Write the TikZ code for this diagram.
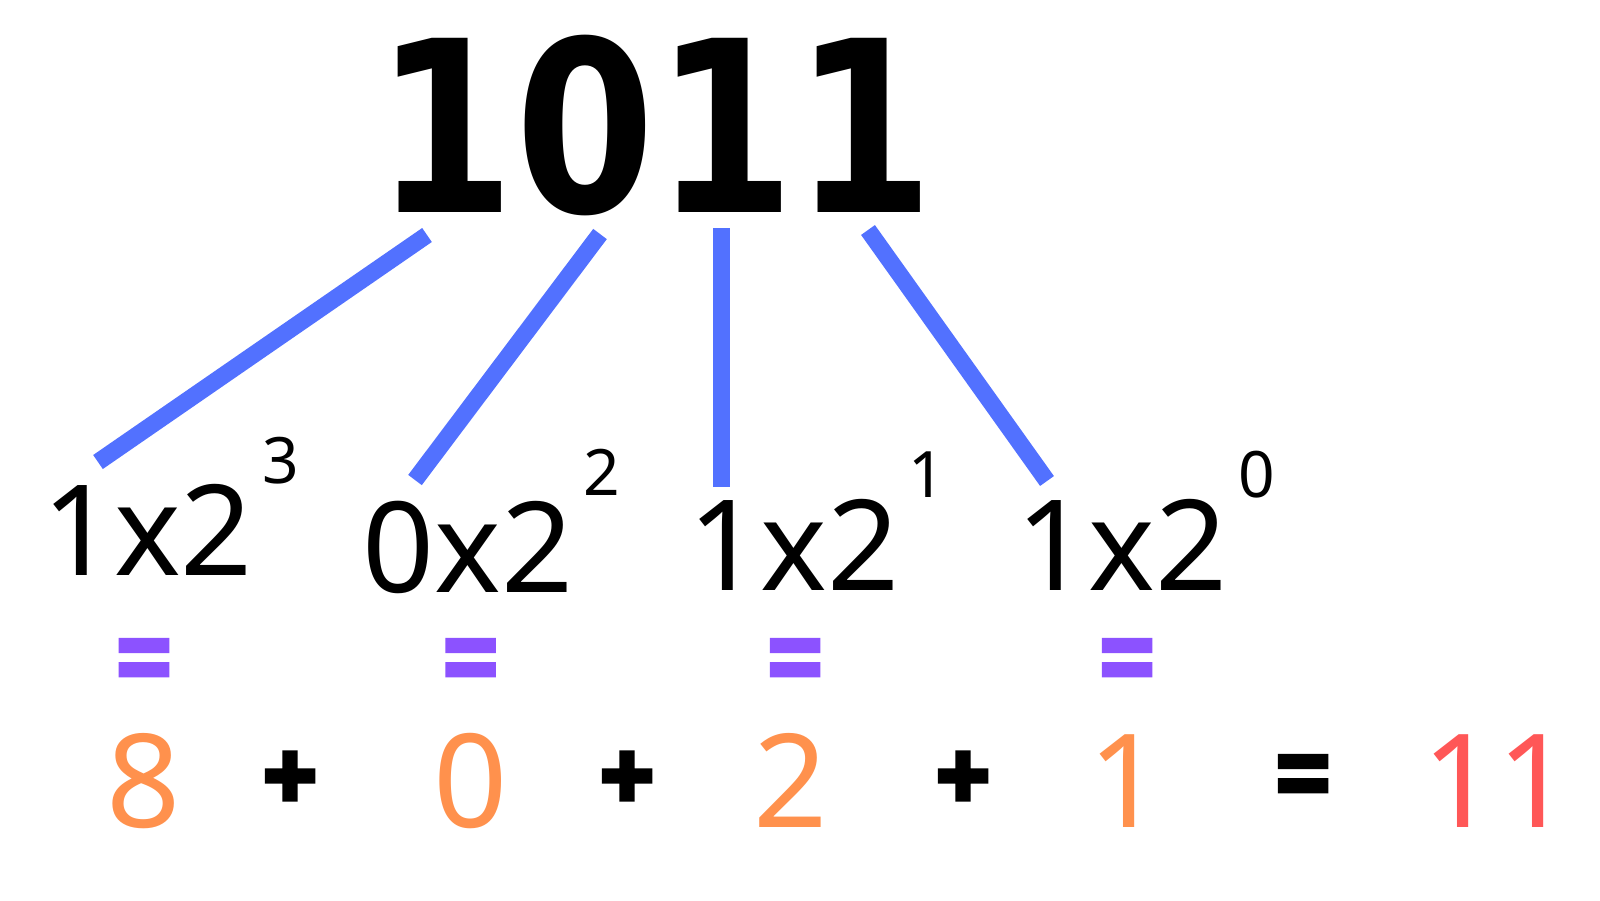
\documentclass[tikz,border=0pt]{standalone}
\usepackage{fontspec}
\setmainfont{Noto Sans}
\newfontfamily\titlefont{DejaVu Sans}
\newfontfamily\opfont{Liberation Sans}[BoldFeatures={FakeBold=6}]
\definecolor{linkblue}{HTML}{5271FF}
\definecolor{eqpurple}{HTML}{8C52FF}
\definecolor{valorange}{HTML}{FF914D}
\definecolor{sumred}{HTML}{FF5757}
\tikzset{
  link/.style={draw=linkblue, line width=17pt},
  titlenum/.style={inner sep=0pt, anchor=base, font=\titlefont\bfseries\fontsize{239}{239}\selectfont},
  term/.style={inner sep=0pt, anchor=base, font=\fontsize{126}{126}\selectfont},
  expo/.style={inner sep=0pt, anchor=base, font=\fontsize{64}{64}\selectfont},
  val/.style={inner sep=0pt, anchor=base, text=valorange, font=\fontsize{130}{130}\selectfont},
  total/.style={inner sep=0pt, anchor=base, text=sumred, font=\fontsize{130}{130}\selectfont},
  opsign/.style={inner sep=0pt, anchor=center, font=\opfont\bfseries\fontsize{90}{90}\selectfont},
  eqsign/.style={opsign, text=eqpurple},
}
\begin{document}
\begin{tikzpicture}[x=1pt,y=-1pt]
\useasboundingbox[fill=white] (0,0) rectangle (1600,900);
% title number
\node[titlenum] (num) at (655,212) {\scalebox{0.84}[1]{1011}};
% connector ends
\coordinate (a1) at (427,235);
\coordinate (a2) at (600,234);
\coordinate (a3) at (721.5,228);
\coordinate (a4) at (868,230);
\coordinate (b1) at (98,462);
\coordinate (b2) at (415,480);
\coordinate (b3) at (721.5,487);
\coordinate (b4) at (1047,481);
\draw[link] (a1) -- (b1);
\draw[link] (a2) -- (b2);
\draw[link] (a3) -- (b3);
\draw[link] (a4) -- (b4);
% terms
\node[term] (t1) at (147.5,575) {1x2};
\node[expo] (e1) at (281,483) {3};
\node[term] (t2) at (468,592) {0x2};
\node[expo] (e2) at (602,495) {2};
\node[term] (t3) at (794,590) {1x2};
\node[expo] (e3) at (927,497) {1};
\node[term] (t4) at (1122,590) {1x2};
\node[expo] (e4) at (1257,497) {0};
% purple equals
\node[eqsign] (q1) at (144,664) {=};
\node[eqsign] (q2) at (470.5,664) {=};
\node[eqsign] (q3) at (795,664) {=};
\node[eqsign] (q4) at (1127,664) {=};
% values
\node[val] (v1) at (144,827) {8};
\node[opsign] (p1) at (290,779.5) {+};
\node[val] (v2) at (471,827) {0};
\node[opsign] (p2) at (627,779.5) {+};
\node[val] (v3) at (791,827) {2};
\node[opsign] (p3) at (963,779.5) {+};
\node[val] (v4) at (1126,827) {1};
\node[opsign] (eq) at (1303,780) {=};
\node[total] (res) at (1497,827) {11};
\end{tikzpicture}
\end{document}
